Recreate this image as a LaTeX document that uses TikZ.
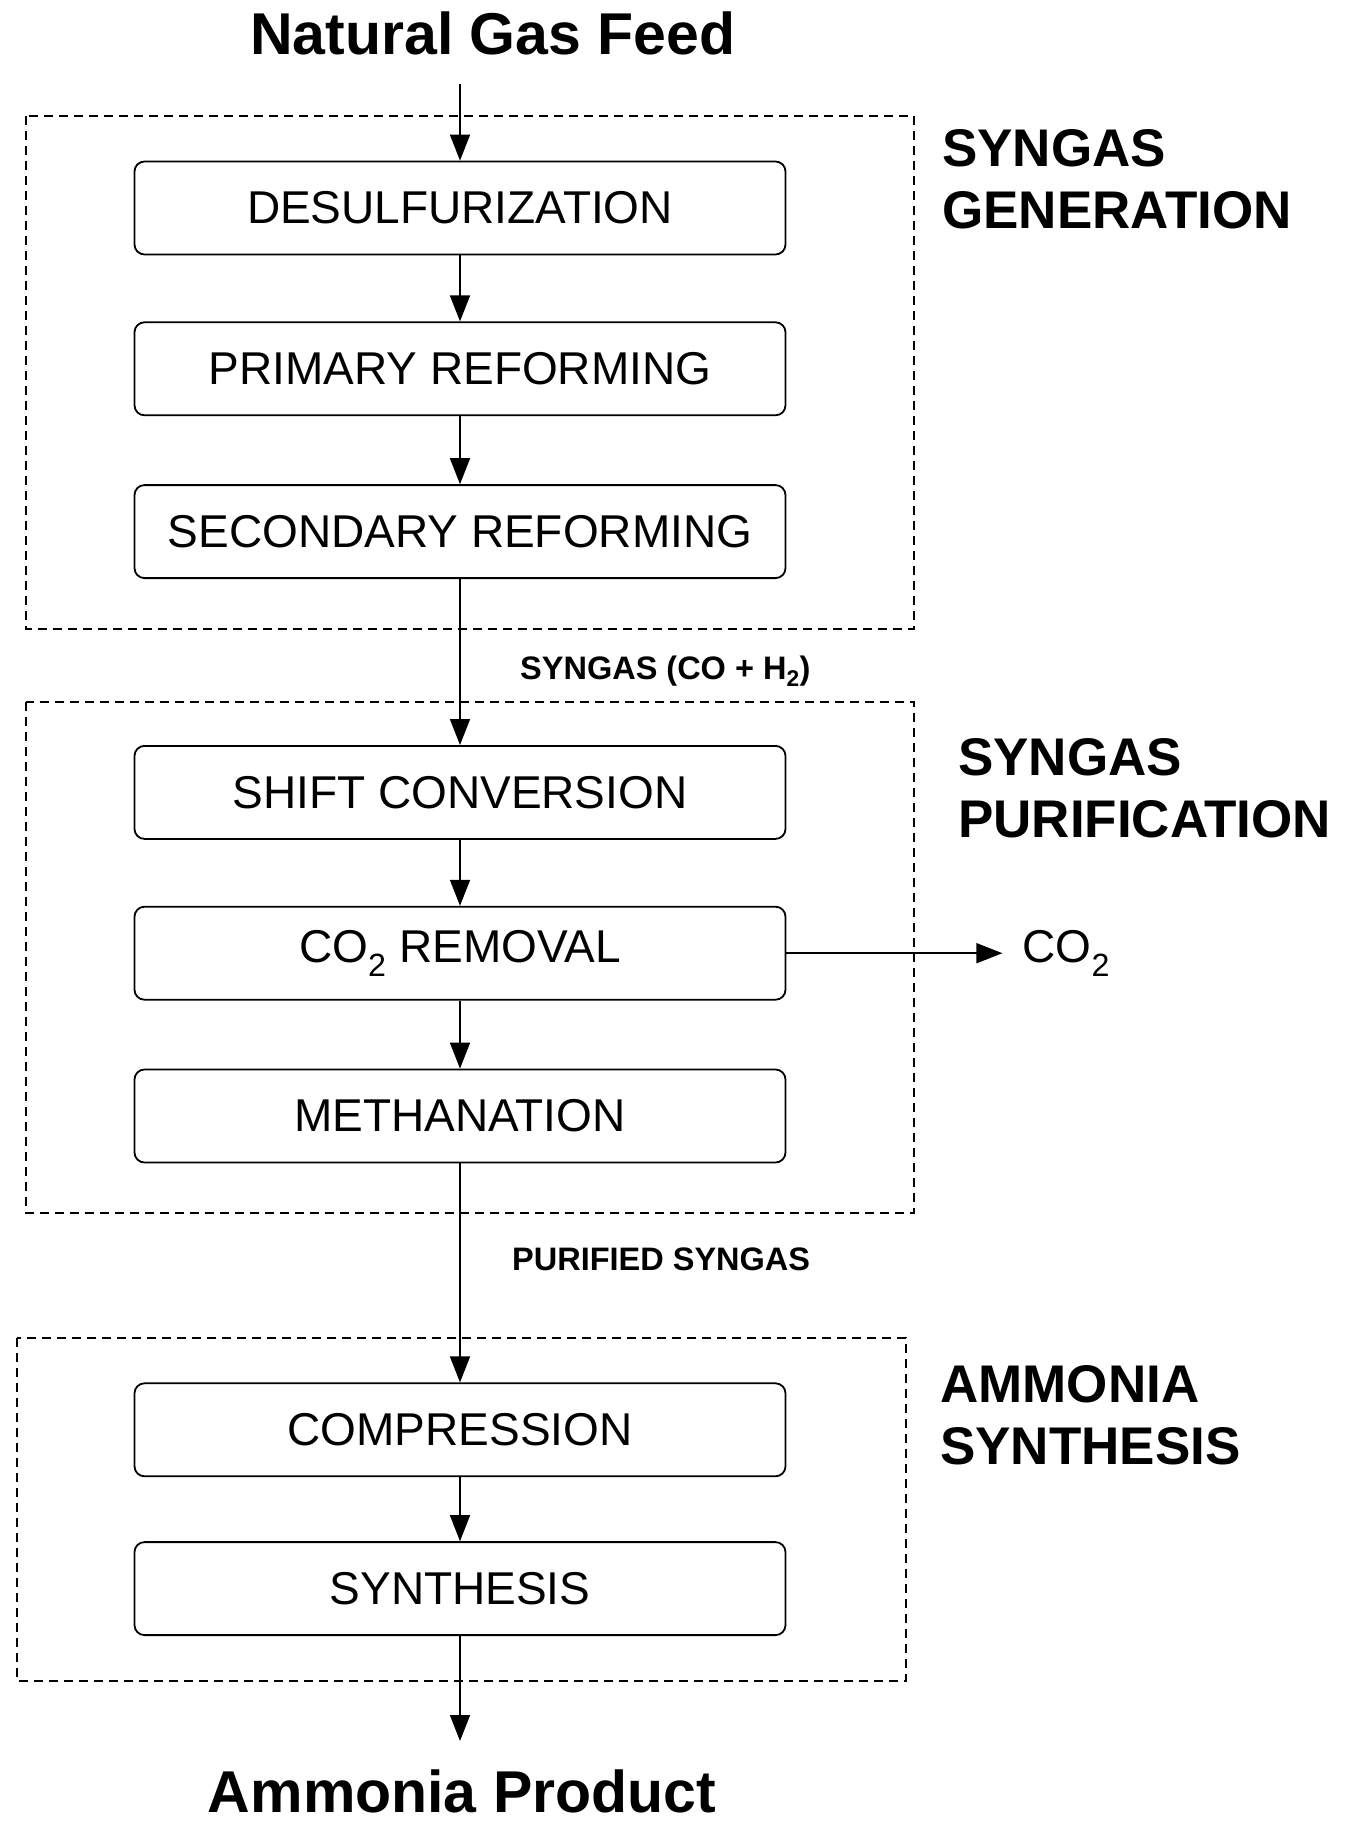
\documentclass[tikz,border=0pt]{standalone}
\usepackage{fontspec}
\setmainfont{Liberation Sans}
\usepackage{tikz}
\usetikzlibrary{positioning, arrows.meta}

\begin{document}
\begin{tikzpicture}[
  x=1pt, y=-1pt,
  node distance=66pt,
  stepbox/.style={draw, rounded corners=10pt, line width=1.8pt, minimum height=93pt, minimum width=651pt, font=\fontsize{46}{55}\selectfont, fill=white},
  titletext/.style={font=\bfseries\fontsize{59}{70}\selectfont, inner sep=0pt},
  grouplabel/.style={font=\bfseries\fontsize{53}{62}\selectfont, align=left, anchor=west, inner sep=0pt},
  flowlabel/.style={font=\bfseries\fontsize{32.5}{39}\selectfont, anchor=west, inner sep=0pt},
  group/.style={draw, line width=1.5pt, dash pattern=on 9pt off 6pt},
  arr/.style={-{Triangle[length=26pt, width=20pt]}, line width=1.6pt},
]
  \useasboundingbox (0,0) rectangle (1350,1823);

  % Group frames
  \draw[group] (26,116) rectangle (914,629);
  \draw[group] (26,702) rectangle (914,1213);
  \draw[group] (17,1338) rectangle (906,1681);

  % Feed and product
  \node[titletext] (feed) at (493,33) {Natural Gas Feed};
  \node[titletext] (product) at (462,1791) {Ammonia Product};
  \coordinate (feedin) at (460,84);
  \coordinate (productout) at (460,1741);

  % Syngas generation
  \node[stepbox] (desulf) at (460,208) {DESULFURIZATION};
  \node[stepbox, below=of desulf] (primary) {PRIMARY REFORMING};
  \node[stepbox, below=68pt of primary] (secondary) {SECONDARY REFORMING};

  % Syngas purification
  \node[stepbox, below=166pt of secondary] (shift) {SHIFT CONVERSION};
  \node[stepbox, below=of shift] (co2rem) {CO\textsubscript{2} REMOVAL};
  \node[stepbox, below=68pt of co2rem] (methan) {METHANATION};

  % Ammonia synthesis
  \node[stepbox, below=219pt of methan] (compress) {COMPRESSION};
  \node[stepbox, below=64pt of compress] (synth) {SYNTHESIS};

  % Group labels
  \node[grouplabel] (genlabel) at (942,179) {SYNGAS\\GENERATION};
  \node[grouplabel] (purlabel) at (958,788) {SYNGAS\\PURIFICATION};
  \node[grouplabel] (ammlabel) at (940,1415) {AMMONIA\\SYNTHESIS};

  % Stream labels
  \node[flowlabel] (syngaslabel) at (520,671) {SYNGAS (CO + H\textsubscript{2})};
  \node[flowlabel] (purifiedlabel) at (512,1259) {PURIFIED SYNGAS};
  \node[font=\fontsize{46}{55}\selectfont, inner sep=0pt, right=236pt of co2rem] (co2out) {CO\textsubscript{2}};

  % Arrows
  \draw[arr] (feedin) -- (desulf);
  \draw[arr] (desulf) -- (primary);
  \draw[arr] (primary) -- (secondary);
  \draw[arr] (secondary) -- (shift);
  \draw[arr] (shift) -- (co2rem);
  \draw[arr] (co2rem) -- (methan);
  \draw[arr] (methan) -- (compress);
  \draw[arr] (compress) -- (synth);
  \draw[arr] (synth) -- (productout);
  \draw[arr, shorten >=20pt] (co2rem.east) -- (co2out.west);
\end{tikzpicture}
\end{document}
